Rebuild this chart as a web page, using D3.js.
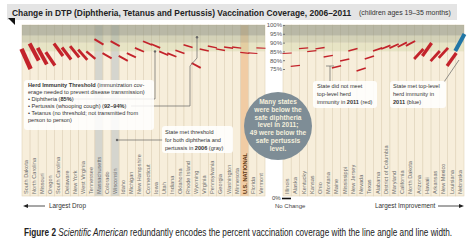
<!DOCTYPE html>
<html>
<head>
<meta charset="utf-8">
<script src="https://cdn.jsdelivr.net/npm/d3@7"></script>
<style>
  body { margin: 0; background: #fff; }
  svg { display: block; font-family: "Liberation Sans", Arial, sans-serif; }
</style>
</head>
<body>
<svg width="474" height="246"></svg>
<script>
// states ordered from largest drop to smallest drop (left group)
const LEFT_STATES = ["South Dakota", "North Carolina", "Missouri", "Oregon", "South Carolina", "Delaware",
  "New York", "West Virginia", "Tennessee", "Massachusetts", "Colorado", "Wisconsin", "Idaho", "Michigan",
  "New Hampshire", "Connecticut", "Iowa", "Utah", "Indiana", "Oklahoma", "Rhode Island", "Wyoming",
  "Virginia", "Pennsylvania", "Georgia", "Washington", "Minnesota", "U.S. NATIONAL", "Florida", "Vermont"];
const LEFT_2006 = [86.4, 89.5, 87.0, 84.6, 89.5, 87.2, 88.0, 86.0, 85.0, 92.0, 84.0, 90.8, 82.4, 84.0,
  87.0, 90.8, 89.2, 85.0, 84.0, 85.6, 88.8, 78.4, 86.4, 88.1, 86.4, 87.5, 87.5, 84.4, 84.2, 87.0];
const LEFT_2011 = [75.0, 79.8, 77.6, 77.0, 82.4, 80.4, 81.6, 80.2, 80.8, 88.8, 81.0, 88.0, 79.6, 81.6,
  84.8, 88.6, 87.0, 82.8, 82.0, 83.8, 87.2, 75.6, 85.2, 87.0, 85.5, 86.8, 86.9, 83.9, 83.8, 86.8];

// states ordered from smallest to largest improvement (right group)
const RIGHT_STATES = ["Illinois", "Alaska", "Kentucky", "Kansas", "Ohio", "Montana", "Maine", "Mississippi",
  "New Jersey", "Nevada", "Texas", "Alabama", "District of Columbia", "Maryland", "California",
  "North Dakota", "Arizona", "Hawaii", "Arkansas", "New Mexico", "Louisiana", "Nebraska"];
const RIGHT_2006 = [83.8, 76.5, 86.6, 84.9, 86.4, 81.8, 75.6, 79.5, 85.2, 73.9, 80.7, 85.2, 86.4, 86.9,
  87.5, 88.1, 80.7, 82.4, 79.5, 81.3, 76.7, 85.2];
const RIGHT_2011 = [84.1, 77.0, 87.0, 85.5, 87.2, 82.7, 76.8, 80.7, 86.6, 75.6, 82.4, 87.0, 88.4, 89.2,
  90.1, 90.9, 86.4, 89.8, 85.2, 87.0, 84.1, 94.9];

const TICKS = [75, 80, 85, 90, 95, 100];
const BAND_EDGES = [85, 90, 94, 100];          // shaded threshold bands
const GRAY_STATES = ["Massachusetts", "Wisconsin"]; // met both thresholds in 2006
const NATIONAL = "U.S. NATIONAL";
const TOP_LEVEL = 94;

const svg = d3.select("svg");
const PANEL_TOP = 25, PANEL_BOTTOM = 196;

const y = d3.scaleLinear().domain([0, 100]).range([201, 25]);
const xLeft = d3.scaleBand().domain(LEFT_STATES).range([22, 265]);
const xRight = d3.scaleBand().domain(RIGHT_STATES).range([283, 464]);

// squeeze a text horizontally so it spans the given width
function fitWidth(g, width) {
  const w = g.node().getBBox().width;
  const t = g.attr("data-pos").split(",");
  g.attr("transform", `translate(${t[0]},${t[1]}) scale(${width / w},1)`);
}

// title bar
svg.append("rect").attr("x", 7).attr("y", 4).attr("width", 450).attr("height", 16).attr("fill", "#e4e4e4");
const title = svg.append("g").attr("data-pos", "12,15.5");
title.append("text").attr("font-size", 9.5).attr("font-weight", "bold").attr("fill", "#222")
  .text("Change in DTP (Diphtheria, Tetanus and Pertussis) Vaccination Coverage, 2006\u20132011");
fitWidth(title, 340);
const sub = svg.append("g").attr("data-pos", "359,15");
sub.append("text").attr("font-size", 6.6).attr("fill", "#333").text("(children ages 19\u201335 months)");
fitWidth(sub, 92);
svg.append("path").attr("d", "M8,18 L15,18 L15,25 Z").attr("fill", "#111");

const bandFill = ["#c8d09e", "#a9b08e", "#8f9482"];
const bandOpacity = [0.35, 0.45, 0.6];

function drawGroup(scale, states, v06, v11) {
  const g = svg.append("g");
  const bw = scale.bandwidth();

  g.selectAll(".col")
    .data(states)
    .enter()
    .append("rect")
    .classed("col", true)
    .attr("x", d => scale(d))
    .attr("y", PANEL_TOP)
    .attr("width", bw)
    .attr("height", PANEL_BOTTOM - PANEL_TOP)
    .attr("fill", d => d === NATIONAL ? "#f1cca4" : GRAY_STATES.includes(d) ? "#d5d5ce" : "#f7eedb")
    .attr("stroke", "#e0d3b9")
    .attr("stroke-width", 0.6);

  const r = scale.range();
  g.selectAll(".band")
    .data(d3.pairs(BAND_EDGES))
    .enter()
    .append("rect")
    .classed("band", true)
    .attr("x", r[0])
    .attr("width", r[1] - r[0])
    .attr("y", d => y(d[1]))
    .attr("height", d => y(d[0]) - y(d[1]))
    .attr("fill", (d, i) => bandFill[i])
    .attr("opacity", (d, i) => bandOpacity[i]);

  g.selectAll(".name")
    .data(states)
    .enter()
    .append("text")
    .classed("name", true)
    .attr("transform", d => `translate(${scale(d) + bw / 2},${PANEL_BOTTOM - 2}) rotate(-90)`)
    .attr("dy", "0.35em")
    .attr("font-size", 5.6)
    .attr("font-weight", d => d === NATIONAL ? "bold" : "normal")
    .attr("fill", d => d === NATIONAL ? "#5a3510" : "#6e6e6e")
    .text(d => d);

  const rows = states.map((s, i) => ({ s, a: v06[i], b: v11[i] }));
  g.selectAll(".seg")
    .data(rows)
    .enter()
    .append("line")
    .classed("seg", true)
    .attr("x1", d => scale(d.s) - 0.5)
    .attr("x2", d => scale(d.s) + bw + 0.5)
    .attr("y1", d => y(d.a))
    .attr("y2", d => y(d.b))
    .attr("stroke", d => d.b >= TOP_LEVEL ? "#2176a6" : "#c3232b")
    .attr("stroke-width", d => 1.1 + Math.abs(d.b - d.a) * 0.3);
}

drawGroup(xLeft, LEFT_STATES, LEFT_2006, LEFT_2011);
drawGroup(xRight, RIGHT_STATES, RIGHT_2006, RIGHT_2011);

// percent axis in the gap
const axis = svg.append("g")
  .attr("transform", "translate(285,0)")
  .call(d3.axisLeft(y).tickValues(TICKS).tickSize(2).tickPadding(1).tickFormat(d => d + "%"));
axis.select(".domain").remove();
axis.selectAll("text").attr("font-size", 6).attr("fill", "#555").attr("font-family", "Liberation Sans, Arial, sans-serif");
axis.selectAll("line").attr("stroke", "#777");

// leader lines
const leader = svg.append("g").attr("fill", "none").attr("stroke", "#666").attr("stroke-width", 0.7);
leader.append("path").attr("d", `M72,99 H155 V${y(85)}`);
leader.append("path").attr("d", `M131,106 H190 V66 L197,58 V${y(93)}`);
leader.append("path").attr("d", "M117,140 H163");
leader.append("path").attr("d", "M330,81 V66 M326,66 H334");
leader.append("path").attr("d", "M444,82 L459,60");
svg.append("circle").attr("cx", 155).attr("cy", y(85)).attr("r", 1.2).attr("fill", "#666");
svg.append("circle").attr("cx", 197).attr("cy", y(93)).attr("r", 1.2).attr("fill", "#666");
svg.append("circle").attr("cx", 117).attr("cy", 140).attr("r", 1.2).attr("fill", "#666");

// annotation boxes
function noteBox(x, yy, w, h) {
  svg.append("rect").attr("x", x).attr("y", yy).attr("width", w).attr("height", h)
    .attr("rx", 3).attr("fill", "#fff").attr("opacity", 0.85);
}
function noteLines(x, y0, lines, size, step) {
  const t = svg.append("g").attr("font-size", size).attr("fill", "#333");
  lines.forEach((parts, i) => {
    const tx = t.append("text").attr("x", x).attr("y", y0 + i * step);
    parts.forEach(p => tx.append("tspan").attr("font-weight", p.b ? "bold" : "normal").text(p.t));
  });
}

noteBox(24, 80, 130, 50);
noteLines(28, 87, [
  [{ t: "Herd Immunity Threshold", b: true }, { t: " (immunization cov-" }],
  [{ t: "erage needed to prevent disease transmission)" }],
  [{ t: "\u2022 Diphtheria (" }, { t: "85%", b: true }, { t: ")" }],
  [{ t: "\u2022 Pertussis (whooping cough) (" }, { t: "92\u201394%", b: true }, { t: ")" }],
  [{ t: "\u2022 Tetanus (no threshold; not transmitted from" }],
  [{ t: "  person to person)" }]
], 5.6, 7);

noteBox(162, 126, 71, 27);
noteLines(165, 133.5, [
  [{ t: "State met threshold" }],
  [{ t: "for both diphtheria and" }],
  [{ t: "pertussis in " }, { t: "2006", b: true }, { t: " (gray)" }]
], 5.6, 8);

noteBox(313, 81, 64, 27);
noteLines(317, 88, [
  [{ t: "State did not meet" }],
  [{ t: "top-level herd" }],
  [{ t: "immunity in " }, { t: "2011", b: true }, { t: " (red)" }]
], 5.6, 8);

noteBox(390, 81, 56, 27);
noteLines(393, 88, [
  [{ t: "State met top-level" }],
  [{ t: "herd immunity in" }],
  [{ t: "2011", b: true }, { t: " (blue)" }]
], 5.6, 8);

// callout circle
svg.append("circle").attr("cx", 278).attr("cy", 126).attr("r", 34).attr("fill", "#7e8d96");
const circleText = ["Many states", "were below the", "safe diphtheria", "level in 2011;",
  "49 were below the", "safe pertussis", "level."];
svg.append("g").selectAll("text")
  .data(circleText)
  .enter()
  .append("text")
  .attr("x", 278)
  .attr("y", (d, i) => 104 + i * 7.8)
  .attr("text-anchor", "middle")
  .attr("font-size", 6.6)
  .attr("font-weight", "bold")
  .attr("fill", "#f4efdc")
  .text(d => d);

// no-change legend and direction arrows
svg.append("text").attr("x", 272).attr("y", 200).attr("font-size", 6).attr("fill", "#444").text("0%");
svg.append("line").attr("x1", 282).attr("x2", 291).attr("y1", 198.5).attr("y2", 198.5)
  .attr("stroke", "#111").attr("stroke-width", 1.6);
svg.append("text").attr("x", 275).attr("y", 208).attr("font-size", 6).attr("fill", "#444").text("No Change");

const arrows = svg.append("g").attr("stroke", "#222").attr("stroke-width", 0.8);
arrows.append("line").attr("x1", 26).attr("x2", 45).attr("y1", 206).attr("y2", 206);
arrows.append("line").attr("x1", 438).attr("x2", 460).attr("y1", 206).attr("y2", 206);
svg.append("path").attr("d", "M23,206 L28,204 L28,208 Z").attr("fill", "#222");
svg.append("path").attr("d", "M464,206 L459,204 L459,208 Z").attr("fill", "#222");
svg.append("text").attr("x", 49).attr("y", 208).attr("font-size", 6.4).attr("fill", "#333").text("Largest Drop");
svg.append("text").attr("x", 375).attr("y", 208).attr("font-size", 6.4).attr("fill", "#333").text("Largest Improvement");

// caption
const cap = svg.append("g").attr("data-pos", "24,236");
const capText = cap.append("text").attr("font-size", 10).attr("fill", "#222");
capText.append("tspan").attr("font-weight", "bold").text("Figure 2 ");
capText.append("tspan").attr("font-style", "italic").text("Scientific American");
capText.append("tspan").text(" redundantly encodes the percent vaccination coverage with the line angle and line width.");
fitWidth(cap, 429);
</script>
</body>
</html>
